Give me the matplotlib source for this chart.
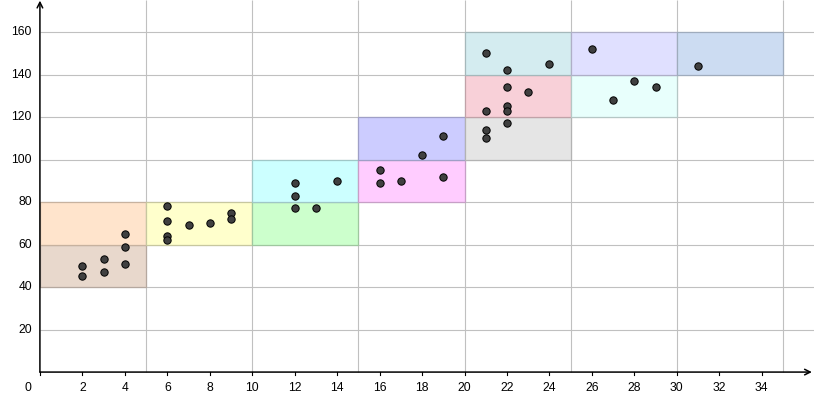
import matplotlib.pyplot as plt
from matplotlib.patches import Rectangle
import matplotlib.colors as mcolors

# scatter points
xs = [2, 2, 3, 3, 4, 4, 4, 6, 6, 6, 6, 7, 8, 9, 9,
      12, 12, 12, 13, 14, 16, 16, 17, 18, 19, 19,
      21, 21, 21, 21, 22, 22, 22, 22, 22, 23, 24, 26, 27, 28, 29, 31]
ys = [50, 45, 53, 47, 65, 59, 51, 78, 71, 64, 62, 69, 70, 75, 72,
      89, 83, 77, 77, 90, 95, 89, 90, 102, 92, 111,
      150, 123, 114, 110, 142, 134, 125, 123, 117, 132, 145, 152, 128, 137, 134, 144]

# shaded cells (lower left corner) and their colours
cell_x = [0, 0, 5, 10, 10, 15, 15, 20, 20, 20, 25, 25, 30]
cell_y = [40, 60, 60, 60, 80, 80, 100, 100, 120, 140, 120, 140, 140]
cell_colors = ['#e8d8cc', '#ffe4cc', '#ffffcc', '#ccffcc', '#ccffff', '#ffccff', '#ccccff',
               '#e5e5e5', '#f8d0d8', '#d4ecf0', '#e8fffc', '#e0e0ff', '#ccdcf2']
cell_w = 5
cell_h = 20

x_ticks = list(range(2, 36, 2))
y_ticks = list(range(20, 180, 20))

plt.rcParams['font.family'] = ['Liberation Sans', 'DejaVu Sans']

fig = plt.figure(figsize=(8.14, 3.98), dpi=100)
ax = fig.add_axes([0, 0, 1, 1])
xmin, xmax = -1.88, 36.46
ymin, ymax = -12.2, 175.1
ax.set_xlim(xmin, xmax)
ax.set_ylim(ymin, ymax)
for s in ax.spines.values():
    s.set_visible(False)

# grid only in first quadrant
for gx in range(5, 40, 5):
    ax.vlines(gx, 0, ymax, color='#c0c0c0', lw=0.8, zorder=1)
for gy in y_ticks:
    ax.hlines(gy, 0, xmax, color='#c0c0c0', lw=0.8, zorder=1)

for x0, y0, c in zip(cell_x, cell_y, cell_colors):
    rgb = mcolors.to_rgb(c)
    edge = tuple(v * 0.78 for v in rgb)
    ax.add_patch(Rectangle((x0, y0), cell_w, cell_h, facecolor=c,
                           edgecolor=edge, lw=0.9, zorder=2))

ax.scatter(xs, ys, s=28, facecolor='#404040', edgecolor='black', linewidth=0.7, zorder=4)

# axes with arrows
arrow = dict(arrowstyle='->', color='black', lw=1.1, mutation_scale=10, shrinkA=0, shrinkB=0)
ax.annotate('', xy=(36.36, 0), xytext=(0, 0), arrowprops=arrow, zorder=5)
ax.annotate('', xy=(0, 174.8), xytext=(0, 0), arrowprops=arrow, zorder=5)

ax.set_xticks([])
ax.set_yticks([])
for t in x_ticks:
    ax.plot([t, t], [0, -1.6], color='black', lw=0.8, zorder=5)
    ax.text(t, -4.7, str(t), ha='center', va='top', fontsize=8.7)
ax.plot([0, 0], [0, -1.6], color='black', lw=0.8, zorder=5)
ax.text(-0.38, -4.7, '0', ha='right', va='top', fontsize=8.7)
for t in y_ticks:
    ax.text(-0.38, t, str(t), ha='right', va='center', fontsize=8.7)

fig.savefig('out.png', dpi=100)
